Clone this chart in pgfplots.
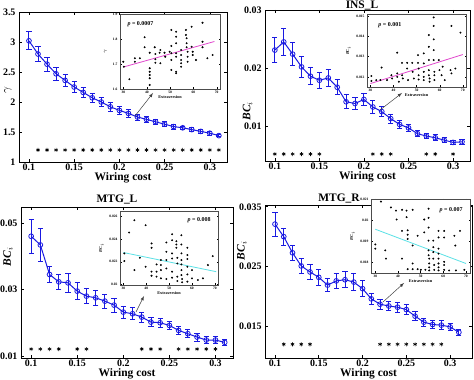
\documentclass[border=0pt]{standalone}
\usepackage{fontspec}
\setmainfont{Liberation Serif}
\usepackage{pgfplots}
\usepackage{pgfplotstable}
\pgfplotsset{compat=1.18}
\definecolor{mblue}{RGB}{25,25,225}
\definecolor{mpink}{RGB}{225,70,205}
\definecolor{mcyan}{RGB}{90,225,230}

\pgfplotstableread{
x y e
0.10 3.02 0.15
0.11 2.80 0.13
0.12 2.63 0.12
0.13 2.47 0.11
0.14 2.36 0.10
0.15 2.25 0.09
0.16 2.16 0.08
0.17 2.07 0.08
0.18 2.00 0.07
0.19 1.92 0.07
0.20 1.86 0.06
0.21 1.81 0.06
0.22 1.75 0.05
0.23 1.71 0.05
0.24 1.67 0.04
0.25 1.63 0.04
0.26 1.59 0.04
0.27 1.57 0.03
0.28 1.54 0.03
0.29 1.51 0.03
0.30 1.48 0.03
0.31 1.44 0.02
}\tA
\pgfplotstableread{
x y e
0.10 0.0231 0.0022
0.11 0.0245 0.0023
0.12 0.0224 0.0020
0.13 0.0202 0.0018
0.14 0.0186 0.0015
0.15 0.0179 0.0014
0.16 0.0183 0.0014
0.17 0.0167 0.0013
0.18 0.0142 0.0012
0.19 0.0139 0.0011
0.20 0.0146 0.0011
0.21 0.0133 0.0011
0.22 0.0125 0.0009
0.23 0.0113 0.0008
0.24 0.0103 0.0007
0.25 0.0097 0.0006
0.26 0.0087 0.0005
0.27 0.0083 0.0005
0.28 0.0080 0.0005
0.29 0.0076 0.0004
0.30 0.0072 0.0004
0.31 0.0073 0.0004
}\tB
\pgfplotstableread{
x y e
0.10 0.0460 0.0051
0.11 0.0434 0.0049
0.12 0.0345 0.0024
0.13 0.0323 0.0023
0.14 0.0320 0.0028
0.15 0.0295 0.0025
0.16 0.0280 0.0023
0.17 0.0275 0.0022
0.18 0.0265 0.0021
0.19 0.0253 0.0021
0.20 0.0232 0.0018
0.21 0.0227 0.0018
0.22 0.0217 0.0015
0.23 0.0202 0.0014
0.24 0.0200 0.0014
0.25 0.0192 0.0013
0.26 0.0177 0.0013
0.27 0.0167 0.0012
0.28 0.0157 0.0012
0.29 0.0148 0.0011
0.30 0.0148 0.0011
0.31 0.0141 0.0010
}\tC
\pgfplotstableread{
x y e
0.10 0.0321 0.0020
0.11 0.0300 0.0014
0.12 0.0273 0.0013
0.13 0.0251 0.0013
0.14 0.0241 0.0013
0.15 0.0232 0.0013
0.16 0.0219 0.0011
0.17 0.0226 0.0013
0.18 0.0228 0.0013
0.19 0.0224 0.0014
0.20 0.0213 0.0013
0.21 0.0196 0.0009
0.22 0.0187 0.0008
0.23 0.0184 0.0008
0.24 0.0182 0.0008
0.25 0.0178 0.0008
0.26 0.0167 0.0008
0.27 0.0157 0.0007
0.28 0.0153 0.0007
0.29 0.0152 0.0007
0.30 0.0149 0.0006
0.31 0.0140 0.0005
}\tD

\pgfplotsset{
 mainax/.style={scale only axis, anchor=south west, tick align=inside,
   scaled x ticks=false, scaled y ticks=false,
   axis line style={line width=0.7pt}, tick style={black, line width=0.6pt},
   major tick length=3bp,
   ticklabel style={font=\fontsize{10}{12}\selectfont\bfseries},
   label style={font=\fontsize{11.5}{13}\selectfont\bfseries},
   xtick={0.1,0.15,0.2,0.25,0.3}, xticklabels={0.1,0.15,0.2,0.25,0.3},
   xticklabel style={yshift=2bp},
   xlabel={Wiring cost}, xlabel style={at={(axis description cs:0.5,0)}, anchor=center, yshift=-16bp},
   xmin=0.089, xmax=0.319, clip=false},
 curve/.style={mblue, line width=1pt, mark=o, mark size=2.4bp,
   mark options={line width=0.8pt, fill=white},
   error bars/.cd, y dir=both, y explicit,
   error bar style={line width=0.9pt, mblue},
   error mark options={rotate=90, mblue, mark size=2.6bp, line width=0.9pt}},
 stars/.style={only marks, mark=asterisk, mark size=2bp, black, mark options={line width=0.6pt}},
 inset/.style={scale only axis, anchor=south west, axis background/.style={fill=white},
   scaled x ticks=false, scaled y ticks=false,
   tick align=inside, major tick length=1.5bp, tick style={line width=0.3pt, black},
   axis line style={line width=0.4pt, black!70},
   ticklabel style={font=\fontsize{3.6}{4}\selectfont\bfseries},
   xtick={30,40,50,60,70}, xticklabels={30,40,50,60,70},
   xmin=28.5, xmax=71.4,
   xlabel={Extraversion}, xlabel style={font=\fontsize{4.2}{5}\selectfont\bfseries, yshift=5bp},
   ylabel style={font=\fontsize{4.2}{5}\selectfont\bfseries, yshift=-1bp},
   xticklabel style={yshift=1bp}, yticklabel style={xshift=1bp}},
 dots/.style={only marks, mark=*, mark size=0.75bp, black},
}

\begin{document}
\begin{tikzpicture}
\useasboundingbox (0,0) rectangle (474bp,380bp);

% ---------- Panel 1 ----------
\begin{axis}[mainax, at={(19bp,218bp)}, width=208bp, height=150bp,
  ymin=1, ymax=3.5, ytick={1,1.5,2,2.5,3,3.5}, yticklabels={1,1.5,2,2.5,3,3.5},
  ylabel={$\gamma$}, ylabel style={at={(axis description cs:-0.053,0.48)}, anchor=center}]
\addplot[curve] table[x=x, y=y, y error=e] {\tA};
\addplot[stars] coordinates {(0.11,1.2)(0.12,1.2)(0.13,1.2)(0.14,1.2)(0.15,1.2)(0.16,1.2)(0.17,1.2)(0.18,1.2)(0.19,1.2)(0.20,1.2)(0.21,1.2)(0.22,1.2)(0.23,1.2)(0.24,1.2)(0.25,1.2)(0.26,1.2)(0.27,1.2)(0.28,1.2)(0.29,1.2)(0.30,1.2)(0.31,1.2)};
\end{axis}
\begin{axis}[inset, at={(120bp,291bp)}, width=100bp, height=75bp,
  ymin=1.6, ymax=1.9, ytick={1.6,1.7,1.8,1.9}, yticklabels={1.6,1.7,1.8,1.9},
  ylabel={$\gamma$}]
\addplot[dots] coordinates {(29.9,1.709)(30.2,1.689)(32.5,1.639)(34.9,1.723)(34.9,1.709)(37.0,1.723)(39.1,1.807)(39.1,1.767)(41.25,1.745)(41.25,1.683)(41.25,1.669)(41.25,1.656)(41.25,1.643)(41.25,1.616)(43.4,1.767)(43.7,1.740)(43.7,1.719)(43.7,1.705)(45.5,1.745)(45.8,1.756)(45.8,1.703)(47.6,1.745)(47.9,1.729)(49.75,1.749)(50.5,1.836)(50.5,1.772)(50.5,1.743)(50.5,1.716)(50.5,1.676)(52.6,1.829)(52.6,1.809)(52.6,1.783)(52.6,1.743)(52.6,1.729)(52.6,1.669)(52.6,1.663)(54.7,1.756)(54.7,1.736)(54.7,1.716)(54.7,1.703)(54.7,1.689)(56.8,1.836)(56.8,1.816)(57.1,1.803)(57.1,1.783)(57.1,1.767)(57.5,1.749)(57.5,1.729)(57.5,1.709)(59.2,1.849)(59.2,1.769)(59.7,1.749)(59.7,1.736)(61.1,1.716)(63.9,1.865)(63.9,1.789)(63.9,1.767)(66.0,1.723)(68.2,1.736)};
\addplot[mpink, line width=0.8pt] coordinates {(30,1.688)(69,1.790)};
\node[anchor=west, font=\fontsize{6}{7}\selectfont\bfseries] at (rel axis cs:0.04,0.87) {\textit{p} = 0.0007};
\end{axis}

% ---------- Panel 2 ----------
\begin{axis}[mainax, at={(265bp,219bp)}, width=205bp, height=151bp,
  ymin=0.004, ymax=0.03, ytick={0.01,0.02,0.03}, yticklabels={0.01,0.02,0.03},
  ylabel={\textbf{\textit{BC}}$_i$}, ylabel style={at={(axis description cs:-0.085,0.33)}, anchor=center}]
\addplot[curve] table[x=x, y=y, y error=e] {\tB};
\addplot[stars] coordinates {(0.10,0.0052)(0.11,0.0052)(0.12,0.0052)(0.13,0.0052)(0.14,0.0052)(0.15,0.0052)(0.21,0.0052)(0.22,0.0052)(0.23,0.0052)(0.27,0.0052)(0.28,0.0052)(0.30,0.0052)};
\end{axis}
\begin{axis}[inset, at={(367bp,293bp)}, width=99bp, height=73bp,
  ymin=0.0115, ymax=0.0151, ytick={0.012,0.013,0.014,0.015}, yticklabels={0.012,0.013,0.014,0.015},
  ylabel={\textit{BC}$_i$}]
\addplot[dots] coordinates {(30.4,0.01204)(30.4,0.01180)(32.5,0.01184)(34.3,0.01184)(34.8,0.01246)(37.2,0.01184)(39.1,0.01208)(39.4,0.01192)(41.6,0.01319)(41.6,0.01217)(41.6,0.01200)(42.3,0.01176)(43.7,0.01269)(43.7,0.01208)(44.0,0.01192)(45.9,0.01269)(45.9,0.01241)(46.3,0.01184)(48.1,0.01269)(48.3,0.01225)(48.8,0.01192)(50.6,0.01307)(50.6,0.01269)(50.9,0.01241)(50.9,0.01208)(50.9,0.01187)(53.1,0.01316)(53.1,0.01266)(53.1,0.01225)(53.1,0.01200)(53.1,0.01184)(55.3,0.01406)(55.3,0.01348)(55.3,0.01283)(55.3,0.01233)(55.3,0.01208)(55.6,0.01192)(55.6,0.01176)(57.4,0.01493)(57.4,0.01451)(57.4,0.01385)(57.4,0.01332)(57.4,0.01283)(57.7,0.01225)(57.7,0.01208)(57.7,0.01184)(59.6,0.01283)(59.9,0.01233)(60.8,0.01208)(61.3,0.01250)(62.2,0.01184)(64.7,0.01233)(65.1,0.01217)(65.1,0.01451)(66.8,0.01241)(69.0,0.01418)};
\addplot[mpink, line width=0.8pt] coordinates {(30,0.01167)(70,0.01310)};
\node[anchor=west, font=\fontsize{6}{7}\selectfont\bfseries] at (rel axis cs:0.08,0.85) {\textit{p} = 0.001};
\end{axis}
\node[font=\fontsize{11.5}{13}\selectfont\bfseries] at (362bp,374.5bp) {INS\_L};

% ---------- Panel 3 ----------
\begin{axis}[mainax, at={(21bp,22bp)}, width=212bp, height=151bp,
  ymin=0.0094, ymax=0.0548, ytick={0.01,0.03,0.05}, yticklabels={0.01,0.03,0.05},
  ylabel={\textbf{\textit{BC}}$_i$}, ylabel style={at={(axis description cs:-0.062,0.67)}, anchor=center}]
\addplot[curve] table[x=x, y=y, y error=e] {\tC};
\addplot[stars] coordinates {(0.10,0.0121)(0.11,0.0121)(0.12,0.0121)(0.13,0.0121)(0.15,0.0121)(0.16,0.0121)(0.22,0.0121)(0.23,0.0121)(0.24,0.0121)(0.26,0.0121)(0.27,0.0121)(0.28,0.0121)(0.29,0.0121)(0.30,0.0121)};
\end{axis}
\begin{axis}[inset, at={(120bp,95bp)}, width=98bp, height=74bp,
  ymin=0.01994, ymax=0.0265, ytick={0.02,0.022,0.024,0.026}, yticklabels={0.02,0.022,0.024,0.026},
  ylabel={\textit{BC}$_i$}]
\addplot[dots] coordinates {(30.4,0.02274)(30.4,0.02206)(32.5,0.02459)(34.8,0.02568)(34.8,0.02126)(37.2,0.02235)(39.7,0.02524)(39.7,0.02156)(42.3,0.02362)(42.3,0.02324)(42.3,0.02112)(42.3,0.02076)(44.5,0.02176)(44.5,0.02112)(44.5,0.02068)(46.4,0.02215)(46.4,0.02171)(46.4,0.02126)(46.4,0.02053)(48.8,0.02371)(48.8,0.02288)(48.8,0.02215)(48.8,0.02141)(48.8,0.02047)(51.3,0.02444)(51.3,0.02391)(51.3,0.02274)(51.3,0.02229)(51.3,0.02112)(51.3,0.02059)(53.2,0.02382)(53.2,0.02353)(53.2,0.02324)(53.6,0.02235)(53.6,0.02185)(53.6,0.02068)(53.6,0.02029)(55.4,0.02435)(55.4,0.02353)(55.4,0.02274)(55.4,0.02215)(55.4,0.02176)(55.4,0.02126)(55.4,0.02082)(55.7,0.02047)(55.7,0.02018)(58.0,0.02324)(58.0,0.02259)(58.0,0.02224)(58.0,0.02156)(58.0,0.02088)(58.0,0.02024)(60.0,0.02126)(60.0,0.02053)(62.6,0.02038)(64.8,0.02053)(67.0,0.02171)(69.1,0.02250)};
\addplot[mcyan, line width=0.8pt] coordinates {(30,0.02282)(70.6,0.02112)};
\node[anchor=east, font=\fontsize{6}{7}\selectfont\bfseries] at (rel axis cs:0.96,0.87) {\textit{p} = 0.008};
\end{axis}
\node[font=\fontsize{11.5}{13}\selectfont\bfseries] at (117bp,180bp) {MTG\_L};

% ---------- Panel 4 ----------
\begin{axis}[mainax, at={(265bp,22bp)}, width=207bp, height=153bp,
  xmin=0.0886, xmax=0.325,
  ymin=0.0097, ymax=0.0353, ytick={0.015,0.025,0.035}, yticklabels={0.015,0.025,0.035},
  ylabel={\textbf{\textit{BC}}$_i$}, ylabel style={at={(axis description cs:-0.112,0.70)}, anchor=center}]
\addplot[curve] table[x=x, y=y, y error=e] {\tD};
\addplot[stars] coordinates {(0.11,0.012)(0.12,0.012)(0.13,0.012)(0.14,0.012)(0.22,0.012)(0.23,0.012)(0.24,0.012)(0.25,0.012)(0.26,0.012)(0.27,0.012)(0.28,0.012)(0.29,0.012)};
\end{axis}
\node[font=\fontsize{11.5}{13}\selectfont\bfseries] at (339bp,181bp) {MTG\_R};
\begin{axis}[inset, at={(371bp,107bp)}, width=99bp, height=74bp,
  xmin=28.1, xmax=71.8,
  ymin=0.0175, ymax=0.021, ytick={0.018,0.019,0.02,0.021}, yticklabels={0.018,0.019,0.02,0.021},
  ylabel={\textit{BC}$_i$}]
\addplot[dots] coordinates {(30,0.01885)(30,0.01865)(32.5,0.02088)(34.4,0.01857)(34.7,0.01818)(36.9,0.02060)(39.1,0.02045)(39.4,0.02003)(41.8,0.02049)(41.8,0.01949)(41.8,0.01818)(43.8,0.02045)(43.8,0.02014)(44.3,0.01952)(44.3,0.01931)(44.3,0.01911)(44.3,0.01768)(46.5,0.02049)(46.5,0.01880)(46.5,0.01795)(46.5,0.01768)(48.7,0.01926)(48.7,0.01768)(50.1,0.01765)(51.6,0.02003)(51.6,0.01942)(52.1,0.01765)(53.5,0.02054)(53.5,0.02011)(53.5,0.01965)(53.5,0.01903)(53.5,0.01857)(53.5,0.01834)(53.8,0.01818)(53.8,0.01795)(53.8,0.01777)(53.8,0.01762)(55.6,0.01903)(55.6,0.01872)(55.6,0.01849)(55.6,0.01818)(56.0,0.01788)(56.0,0.01765)(57.9,0.01949)(57.9,0.01918)(57.9,0.01865)(57.9,0.01842)(57.9,0.01818)(57.9,0.01795)(57.9,0.01777)(57.9,0.01762)(60.4,0.01949)(60.4,0.01918)(60.4,0.01803)(60.4,0.01788)(60.4,0.01765)(62.6,0.01762)(64.9,0.01926)(65.3,0.01880)(65.6,0.01762)(67.4,0.01949)(69.3,0.01765)};
\addplot[mcyan, line width=0.8pt] coordinates {(30,0.01957)(70,0.01795)};
\node[anchor=east, font=\fontsize{6}{7}\selectfont\bfseries] at (rel axis cs:0.96,0.85) {\textit{p} = 0.007};
\end{axis}

% ---------- arrows ----------
\draw[-latex, black!75, line width=0.5pt] (135bp,264bp) -- (153bp,287bp);
\draw[-latex, black!75, line width=0.5pt] (380bp,270bp) -- (402bp,287bp);
\draw[-latex, black!75, line width=0.5pt] (136bp,68bp) -- (144bp,84bp);
\draw[-latex, black!75, line width=0.5pt] (383bp,78bp) -- (404bp,97bp);
\end{tikzpicture}
\end{document}
